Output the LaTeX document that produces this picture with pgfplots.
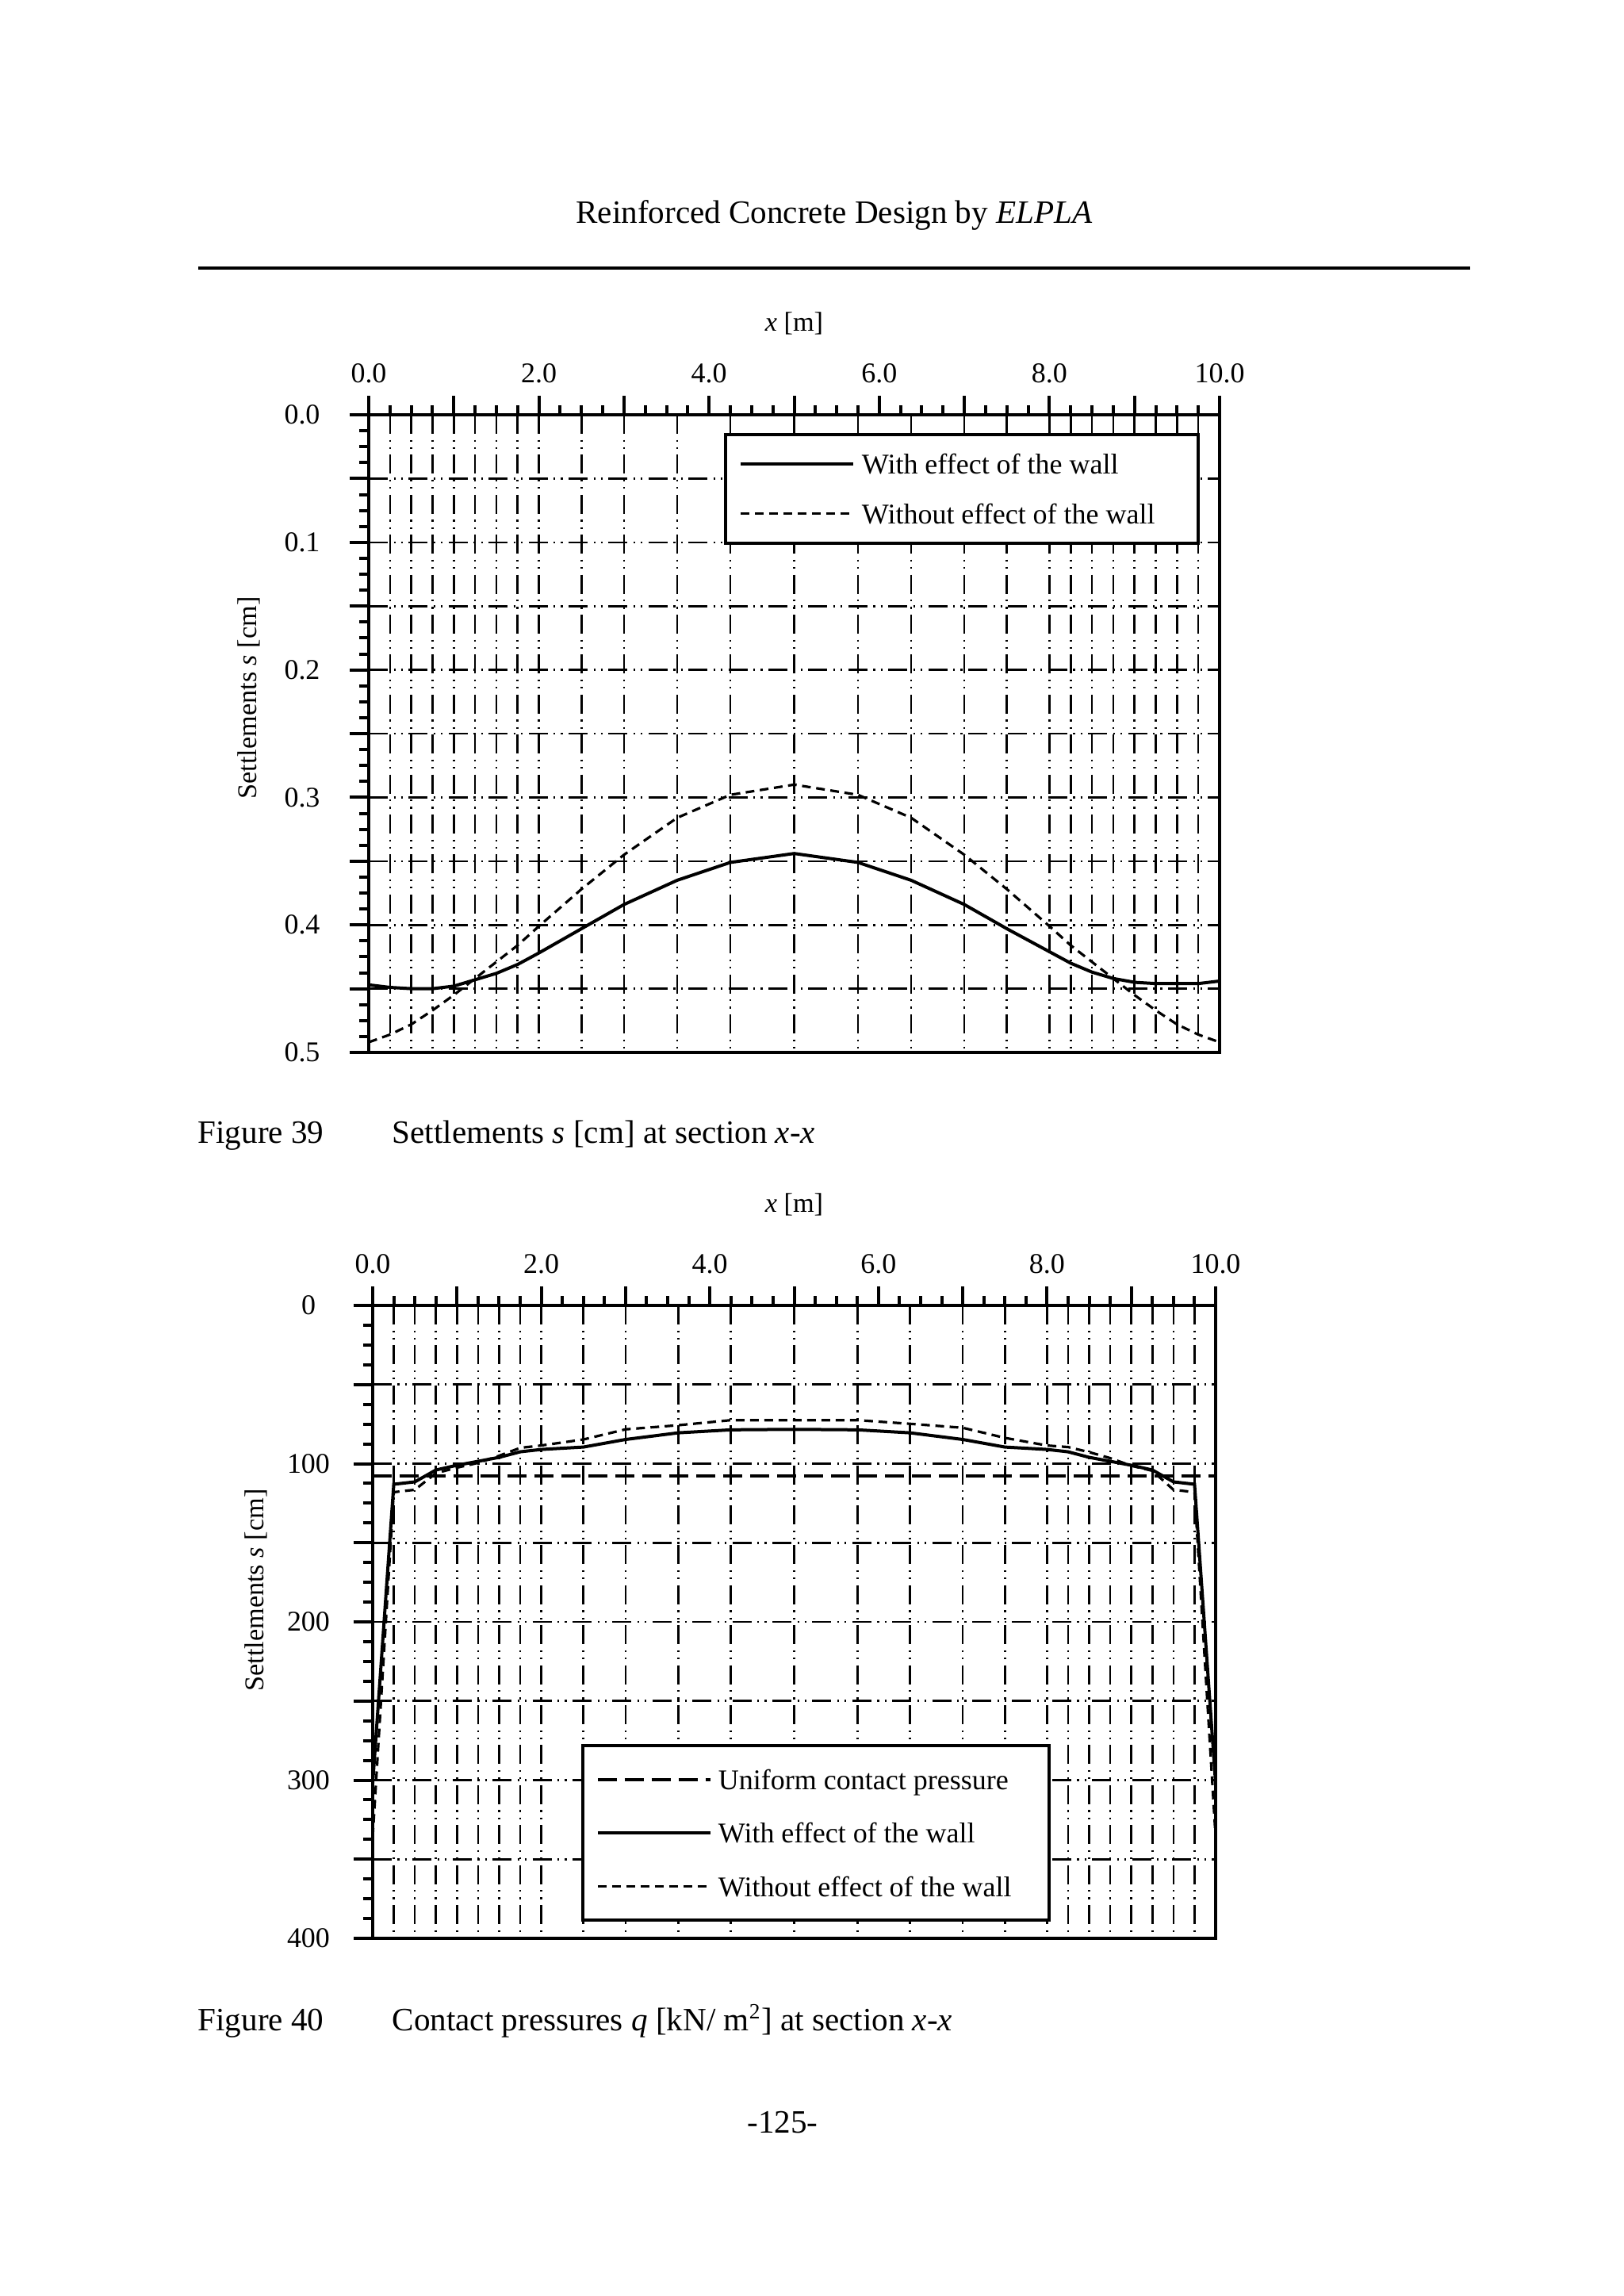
\documentclass[border=0pt]{standalone}
\usepackage{fontspec}
\setmainfont{Liberation Serif}
\usepackage{pgfplots}
\usepackage{pgfplotstable}
\pgfplotsset{compat=1.18}

% one pixel of the 2048 x 2895 page
\newlength\px
\setlength\px{0.10254mm}

% Figure 39: settlements s [cm]
\pgfplotstableread{
x      s
0      0.447
0.25   0.449
0.5    0.450
0.75   0.450
1.0    0.448
1.25   0.443
1.5    0.438
1.75   0.431
2.0    0.422
2.5    0.403
3.0    0.384
3.625  0.365
4.25   0.351
5.0    0.344
5.75   0.351
6.375  0.365
7.0    0.384
7.5    0.403
8.0    0.421
8.25   0.430
8.5    0.437
8.75   0.442
9.0    0.445
9.25   0.446
9.5    0.446
9.75   0.446
10.0   0.444
}\settwith

\pgfplotstableread{
x      s
0      0.492
0.25   0.486
0.5    0.478
0.75   0.467
1.0    0.455
1.25   0.442
1.5    0.429
1.75   0.416
2.0    0.401
2.5    0.372
3.0    0.345
3.625  0.316
4.25   0.298
5.0    0.290
5.75   0.298
6.375  0.316
7.0    0.345
7.5    0.372
8.0    0.401
8.25   0.416
8.5    0.429
8.75   0.442
9.0    0.455
9.25   0.467
9.5    0.478
9.75   0.486
10.0   0.492
}\settwithout

% Figure 40: contact pressures q [kN/m2]
\pgfplotstableread{
x      q
0      108
10     108
}\quniform

\pgfplotstableread{
x      q
0      302
0.25   113
0.5    111.5
0.75   104
1.0    101
1.25   98.5
1.5    96
1.75   92.5
2.0    91
2.5    89.5
3.0    84.7
3.625  80.5
4.25   78.6
5.0    78.3
5.75   78.6
6.375  80.5
7.0    84.7
7.5    89.5
8.0    91
8.25   92.5
8.5    96
8.75   98.5
9.0    101
9.25   104
9.5    111.5
9.75   113
10.0   302
}\qwith

\pgfplotstableread{
x      q
0      336
0.25   118
0.5    116.5
0.75   106
1.0    102.5
1.25   99.5
1.5    95
1.75   90
2.0    88.5
2.5    84.7
3.0    78.3
3.625  75.7
4.25   72.5
5.0    72.5
5.75   72.5
6.375  74.8
7.0    77.3
7.5    83.7
8.0    88.5
8.25   89.5
8.5    92.7
8.75   96.5
9.0    101.3
9.25   104.5
9.5    116.5
9.75   118
10.0   336
}\qwithout

\pgfplotsset{
  elpla/.style={
    scale only axis,
    xmin=0, xmax=10,
    y dir=reverse,
    axis line style={line width=4.5\px},
    tick style={line width=4\px, black},
    tick align=outside,
    major tick length=24\px,
    minor tick length=12\px,
    xtick pos=upper, xticklabel pos=upper,
    ytick pos=left, yticklabel pos=left,
    xtick={0,1,2,3,4,5,6,7,8,9,10},
    xticklabels={0.0,,2.0,,4.0,,6.0,,8.0,,10.0},
    minor x tick num=3, minor y tick num=3,
    ymajorgrids,
    extra x ticks={0.25,0.5,0.75,1,1.25,1.5,1.75,2,2.5,3,3.625,4.25,5,5.75,6.375,7,7.5,8,8.25,8.5,8.75,9,9.25,9.5,9.75},
    extra x tick labels={},
    extra x tick style={grid=major, major tick length=0pt},
    major grid style={line width=2.6\px, black, dash pattern=on 24\px off 7.5\px on 2.2\px off 7\px on 2.2\px off 7.5\px},
    tick label style={font=\fontsize{10.5}{12.6}\selectfont},
    label style={font=\fontsize{10.5}{12.6}\selectfont},
    xticklabel style={anchor=south, yshift=4\px},
    legend cell align=left,
    legend image code/.code={\draw[##1] (0pt,0pt) -- (142\px,0pt);},
    legend style={draw=black, line width=4\px, fill=white,
      font=\fontsize{10.5}{12.6}\selectfont,
      nodes={inner sep=0pt}, inner xsep=17\px},
  },
  withwall/.style={black, line width=4\px},
  withoutwall/.style={black, line width=3.2\px, dash pattern=on 11\px off 7\px},
  uniform/.style={black, line width=4\px, dash pattern=on 24\px off 10\px},
}
\tikzset{pagetext/.style={inner sep=0pt, font=\fontsize{12}{14.4}\selectfont}}

\begin{document}
\begin{tikzpicture}
\path[use as bounding box] (0pt,0pt) rectangle (2048\px,-2895\px);

\node[pagetext, anchor=base] at (1052\px,-281\px)
  {Reinforced Concrete Design by \textit{ELPLA}};
\draw[line width=3.5\px] (250\px,-338\px) -- (1854\px,-338\px);

% ---- Figure 39
\begin{axis}[elpla,
    at={(465\px,-523\px)}, anchor=north west,
    width=1073\px, height=804\px,
    ymin=0, ymax=0.5,
    ytick={0,0.05,0.1,0.15,0.2,0.25,0.3,0.35,0.4,0.45,0.5},
    yticklabels={0.0,,0.1,,0.2,,0.3,,0.4,,0.5},
    yticklabel style={anchor=center, xshift=-60\px},
    every axis x label/.style={at={(axis description cs:0.5,1.143)}, anchor=center},
    every axis y label/.style={at={(axis description cs:-0.141,0.556)}, anchor=center, rotate=90},
    xlabel={\textit{x} [m]},
    ylabel={Settlements \textit{s} [cm]},
    legend style={at={(axis description cs:0.4175,0.972)}, anchor=north west,
      inner ysep=20\px, row sep=27\px, column sep=9\px},
  ]
  \addplot[withwall] table[x=x, y=s] {\settwith};
  \addlegendentry{\makebox[407\px][l]{\strut With effect of the wall}}
  \addplot[withoutwall] table[x=x, y=s] {\settwithout};
  \addlegendentry{\makebox[407\px][l]{\strut Without effect of the wall}}
\end{axis}

\node[pagetext, anchor=base west] at (249\px,-1441\px) {Figure 39};
\node[pagetext, anchor=base west] at (494\px,-1441\px)
  {Settlements \textit{s} [cm] at section \textit{x-x}};

% ---- Figure 40
\begin{axis}[elpla,
    at={(470\px,-1646\px)}, anchor=north west,
    width=1063\px, height=798\px,
    ymin=0, ymax=400,
    ytick={0,50,100,150,200,250,300,350,400},
    yticklabels={0,,100,,200,,300,,400},
    yticklabel style={anchor=center, xshift=-57\px},
    every axis x label/.style={at={(axis description cs:0.5,1.159)}, anchor=center},
    every axis y label/.style={at={(axis description cs:-0.138,0.55)}, anchor=center, rotate=90},
    xlabel={\textit{x} [m]},
    ylabel={Settlements \textit{s} [cm]},
    legend style={at={(axis description cs:0.2474,0.3070)}, anchor=north west,
      inner ysep=25\px, row sep=32\px, column sep=8\px},
  ]
  \addplot[uniform] table[x=x, y=q] {\quniform};
  \addlegendentry{\makebox[400\px][l]{\strut Uniform contact pressure}}
  \addplot[withwall] table[x=x, y=q] {\qwith};
  \addlegendentry{\makebox[400\px][l]{\strut With effect of the wall}}
  \addplot[withoutwall] table[x=x, y=q] {\qwithout};
  \addlegendentry{\makebox[400\px][l]{\strut Without effect of the wall}}
\end{axis}

\node[pagetext, anchor=base west] at (249\px,-2560\px) {Figure 40};
\node[pagetext, anchor=base west] at (494\px,-2560\px)
  {Contact pressures \textit{q} [kN/ m\textsuperscript{2}] at section \textit{x-x}};

\node[pagetext, anchor=base] at (987\px,-2689\px) {-125-};
\end{tikzpicture}
\end{document}
